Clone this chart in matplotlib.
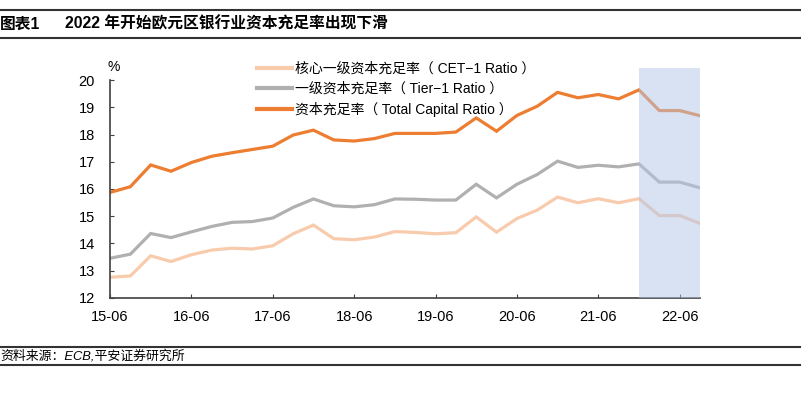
import matplotlib
matplotlib.use("Agg")
import matplotlib.pyplot as plt
from matplotlib.lines import Line2D

plt.rcParams["font.family"] = ["Liberation Sans", "Noto Sans CJK SC", "DejaVu Sans"]

# quarterly data, euro area banks
quarters = [
    "15-06", "15-09", "15-12", "16-03", "16-06", "16-09", "16-12", "17-03",
    "17-06", "17-09", "17-12", "18-03", "18-06", "18-09", "18-12", "19-03",
    "19-06", "19-09", "19-12", "20-03", "20-06", "20-09", "20-12", "21-03",
    "21-06", "21-09", "21-12", "22-03", "22-06", "22-09",
]
cet1 = [
    12.75, 12.80, 13.54, 13.33, 13.58, 13.75, 13.82, 13.79,
    13.91, 14.35, 14.67, 14.17, 14.13, 14.23, 14.43, 14.40,
    14.35, 14.39, 14.97, 14.41, 14.91, 15.22, 15.70, 15.49,
    15.64, 15.49, 15.64, 15.02, 15.02, 14.73,
]
tier1 = [
    13.45, 13.60, 14.36, 14.21, 14.42, 14.62, 14.77, 14.80,
    14.93, 15.32, 15.63, 15.38, 15.34, 15.42, 15.63, 15.62,
    15.59, 15.59, 16.17, 15.67, 16.17, 16.53, 17.02, 16.79,
    16.87, 16.81, 16.92, 16.25, 16.25, 16.04,
]
total = [
    15.87, 16.08, 16.88, 16.65, 16.97, 17.20, 17.33, 17.45,
    17.57, 17.98, 18.16, 17.80, 17.76, 17.85, 18.04, 18.04,
    18.04, 18.09, 18.61, 18.12, 18.70, 19.04, 19.55, 19.35,
    19.47, 19.31, 19.64, 18.88, 18.88, 18.69,
]
series_names = [
    "核心一级资本充足率（ CET−1 Ratio ）",
    "一级资本充足率（ Tier−1 Ratio ）",
    "资本充足率（ Total Capital Ratio ）",
]
colors = ["#F8CBAD", "#B0B0B0", "#ED7D31"]
shade_start = "21-12"

fig = plt.figure(figsize=(8.11, 3.95), dpi=100)
ax = fig.add_axes([110 / 811, 1 - 297.7 / 395, 590 / 811, (297.7 - 67.7) / 395])

x = list(range(len(quarters)))
for vals, c in zip([cet1, tier1, total], colors):
    ax.plot(x, vals, color=c, lw=2.3, solid_joinstyle="miter", zorder=2)

ax.axvspan(quarters.index(shade_start), x[-1], color="#B4C7E7", alpha=0.5,
           lw=0, zorder=3)

ax.set_xlim(0, x[-1])
ax.set_ylim(12, 20.456)
ax.set_yticks(range(12, 21))
ax.set_xticks(x[::4])
ax.set_xticklabels(quarters[::4])
ax.spines["top"].set_visible(False)
ax.spines["right"].set_visible(False)
ax.spines["left"].set_bounds(12, 20)
for s in ["left", "bottom"]:
    ax.spines[s].set_color("#404040")
    ax.spines[s].set_linewidth(1.2)
ax.tick_params(axis="y", direction="in", length=3, pad=11, labelsize=10.5,
               color="#404040")
ax.tick_params(axis="x", direction="in", length=3, pad=9, labelsize=10.5,
               color="#404040")
ax.text(114 / 811, 1 - 67 / 395, "%", transform=fig.transFigure,
        ha="center", va="center", fontsize=10)

handles = [Line2D([0], [0], color=c, lw=3) for c in colors]
fig.legend(handles, series_names, loc="upper left",
           bbox_to_anchor=(250 / 811, 1 - 55 / 395), frameon=False,
           fontsize=10, handlelength=2.5, handletextpad=0.25,
           labelspacing=0.42, borderpad=0)

# header and footer
fig.add_artist(Line2D([0, 800 / 811], [1 - 10 / 395] * 2, color="#333333", lw=1.5))
fig.add_artist(Line2D([0, 800 / 811], [1 - 38 / 395] * 2, color="#333333", lw=1.5))
fig.text(0, 1 - 24 / 395, "图表1", fontsize=11.3, fontweight="bold",
         va="center", ha="left")
fig.text(65 / 811, 1 - 24 / 395, "2022 年开始欧元区银行业资本充足率出现下滑",
         fontsize=11.3, fontweight="bold", va="center", ha="left")
fig.add_artist(Line2D([0, 800 / 811], [1 - 347 / 395] * 2, color="#333333", lw=1.5))
fig.add_artist(Line2D([0, 800 / 811], [1 - 365 / 395] * 2, color="#333333", lw=1.5))
fig.text(0, 1 - 356 / 395, "资料来源：ECB,平安证券研究所", fontsize=9.3,
         style="italic", va="center", ha="left")

fig.savefig("out.png", dpi=100)
